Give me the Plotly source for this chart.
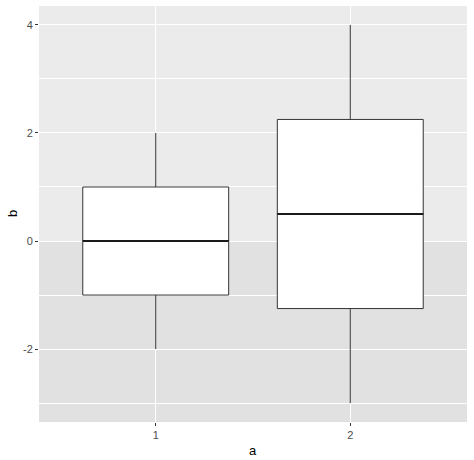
import plotly.graph_objects as go

groups = [1, 2]
lower = [-2, -3]
q1 = [-1, -1.25]
median = [0, 0.5]
q3 = [1, 2.25]
upper = [2, 4]
y_ticks = [-2, 0, 2, 4]
y_labels = ["-2", "0", "2", "4"]
x_labels = ["1", "2"]

box_w = 0.75
fig = go.Figure()
fig.add_trace(go.Box(
    x=groups, q1=q1, median=median, q3=q3, lowerfence=lower, upperfence=upper,
    fillcolor="white", line=dict(color="#333333", width=1), width=box_w,
    whiskerwidth=0, boxpoints=False, showlegend=False, hoverinfo="skip",
))
for g, m in zip(groups, median):
    fig.add_trace(go.Scatter(
        x=[g - box_w / 2, g + box_w / 2], y=[m, m], mode="lines",
        line=dict(color="#1a1a1a", width=2), showlegend=False, hoverinfo="skip",
    ))

ymin, ymax = -3.35, 4.35
fig.add_shape(type="rect", xref="x domain", yref="y", x0=0, x1=1, y0=ymin, y1=0,
              fillcolor="#E1E1E1", line=dict(width=0), layer="below")

fig.update_layout(
    width=474, height=460,
    margin=dict(l=39, r=7, t=6, b=38),
    paper_bgcolor="white", plot_bgcolor="#EBEBEB",
    font=dict(family="Liberation Sans, Arial, sans-serif"),
    annotations=[
        dict(text="a", xref="paper", yref="paper", x=0.5, y=0, yshift=-28,
             showarrow=False, xanchor="center", yanchor="middle",
             font=dict(size=13, color="black")),
        dict(text="b", xref="paper", yref="paper", x=0, y=0.5, xshift=-27,
             showarrow=False, xanchor="center", yanchor="middle", textangle=-90,
             font=dict(size=13, color="black")),
    ],
)
fig.update_xaxes(
    range=[0.4, 2.6], tickvals=groups, ticktext=x_labels, automargin=False,
    showgrid=True, gridcolor="white", gridwidth=1.1,
    ticks="outside", ticklen=3, tickcolor="#333333", tickwidth=1,
    tickfont=dict(size=11, color="#4D4D4D"), zeroline=False, showline=False,
)
fig.update_yaxes(
    range=[ymin, ymax], tickvals=y_ticks, ticktext=y_labels, automargin=False,
    showgrid=True, gridcolor="white", gridwidth=1.1,
    minor=dict(tickvals=[-3, -1, 1, 3], showgrid=True, gridcolor="white", gridwidth=0.5),
    ticks="outside", ticklen=3, tickcolor="#333333", tickwidth=1,
    tickfont=dict(size=11, color="#4D4D4D"), zeroline=False, showline=False,
)
fig.write_html("out.html", config={"displayModeBar": False},
               post_script="document.body.style.margin='0';")
